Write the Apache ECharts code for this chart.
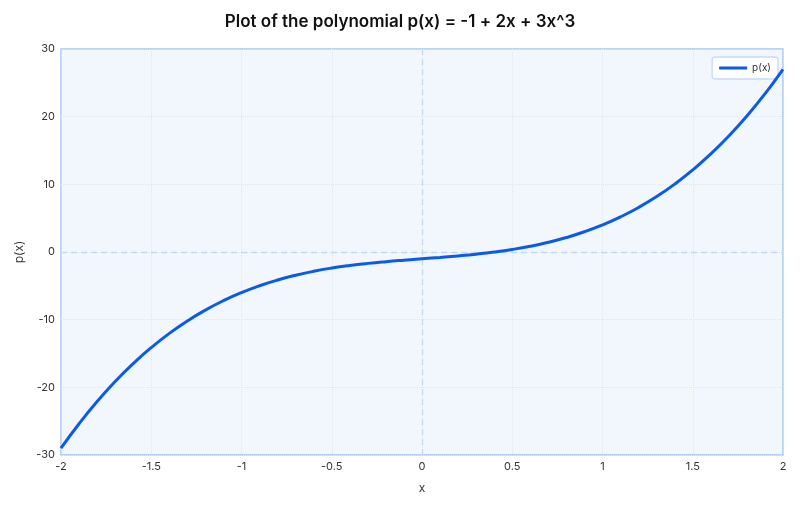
<!DOCTYPE html>
<html><head><meta charset="utf-8">
<script src="https://cdn.jsdelivr.net/npm/echarts@6/dist/echarts.min.js"></script>
<style>html,body{margin:0;padding:0;background:#fff}#c{width:800px;height:507px}</style>
</head><body><div id="c"></div>
<script>
const xValues = [-2,-1.9,-1.8,-1.7,-1.6,-1.5,-1.4,-1.3,-1.2,-1.1,-1,-0.9,-0.8,-0.7,-0.6,-0.5,-0.4,-0.3,-0.2,-0.1,0,0.1,0.2,0.3,0.4,0.5,0.6,0.7,0.8,0.9,1,1.1,1.2,1.3,1.4,1.5,1.6,1.7,1.8,1.9,2];
const pValues = [-29,-25.377,-22.096,-19.139,-16.488,-14.125,-12.032,-10.191,-8.584,-7.193,-6,-4.987,-4.136,-3.429,-2.848,-2.375,-1.992,-1.681,-1.424,-1.203,-1,-0.797,-0.576,-0.319,-0.008,0.375,0.848,1.429,2.136,2.987,4,5.193,6.584,8.191,10.032,12.125,14.488,17.139,20.096,23.377,27];
const titleText = 'Plot of the polynomial p(x) = -1 + 2x + 3x^3';
const seriesName = 'p(x)';

const chart = echarts.init(document.getElementById('c'));
const font = 'Inter, "DejaVu Sans", sans-serif';
chart.setOption({
  animation: false,
  title: { text: titleText, left: 'center', top: 8, textStyle: { fontFamily: font, fontSize: 17, fontWeight: 600, color: '#111' } },
  grid: { left: 61, right: 17, top: 49, bottom: 52, show: true, backgroundColor: '#f2f7fe', borderColor: '#a4c6f3', borderWidth: 1.5 },
  legend: { right: 22, top: 57, data: [seriesName], itemWidth: 28, itemHeight: 3, icon: 'rect', itemGap: 8,
    backgroundColor: '#fff', borderColor: '#c5dbf7', borderWidth: 1.3, borderRadius: 3, padding: [6, 7],
    textStyle: { fontFamily: font, fontSize: 10, color: '#333' } },
  xAxis: { type: 'value', min: -2, max: 2, interval: 0.5, name: 'x', nameLocation: 'middle', nameGap: 27,
    nameTextStyle: { fontFamily: font, fontSize: 12, color: '#333' },
    axisLine: { show: false }, axisTick: { show: false },
    axisLabel: { fontFamily: font, fontSize: 11, color: '#333', margin: 6 },
    splitLine: { show: true, lineStyle: { type: 'dotted', color: '#e0e6ef', width: 1 } } },
  yAxis: { type: 'value', min: -30, max: 30, interval: 10, name: 'p(x)', nameLocation: 'middle', nameGap: 36,
    nameTextStyle: { fontFamily: font, fontSize: 12, color: '#333' },
    axisLine: { show: false }, axisTick: { show: false },
    axisLabel: { fontFamily: font, fontSize: 11, color: '#333', margin: 6 },
    splitLine: { show: true, lineStyle: { type: 'dotted', color: '#e0e6ef', width: 1 } } },
  series: [{
    name: 'zero', type: 'line', data: [], z: 1, silent: true,
    markLine: { silent: true, symbol: 'none', label: { show: false }, z: 1,
      lineStyle: { type: [6, 4], color: '#c4d8f4', width: 1.3 },
      data: [{ xAxis: 0 }, { yAxis: 0 }] }
  }, {
    name: seriesName, type: 'line', smooth: true, showSymbol: false, z: 5,
    data: xValues.map((x, i) => [x, pValues[i]]),
    lineStyle: { color: '#0b5be8', width: 3 }, itemStyle: { color: '#0b5be8' }
  }]
});
</script></body></html>
